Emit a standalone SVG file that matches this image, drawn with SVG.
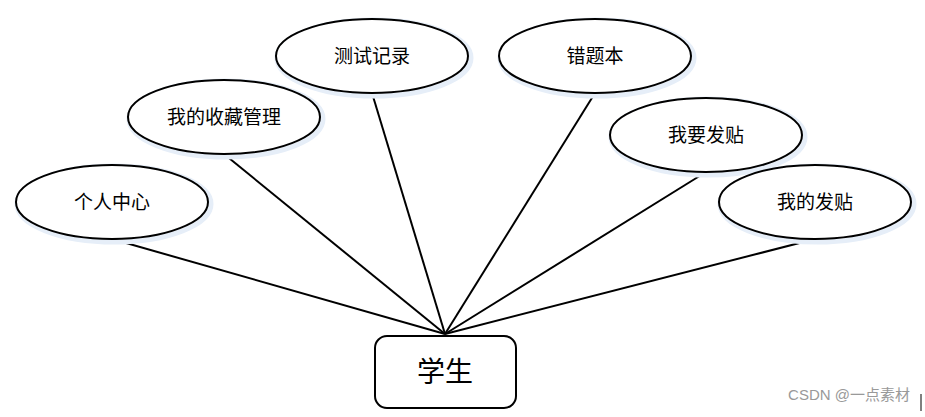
<svg xmlns="http://www.w3.org/2000/svg" width="925" height="417" viewBox="0 0 925 417">
<style>
.n ellipse{fill:#fff;stroke:#000;stroke-width:2}
.n ellipse.sh{fill:none;stroke:#e6eef8;stroke-width:5}
.t{font-family:"Liberation Sans","Noto Sans CJK SC",sans-serif;font-size:19px;fill:#000;text-anchor:middle;dominant-baseline:central}
#c line{stroke:#000;stroke-width:2}
</style>
<rect width="925" height="417" fill="#fff"/>
<g id="c">
<line x1="112" y1="239" x2="445" y2="334"/>
<line x1="224" y1="154" x2="445" y2="334"/>
<line x1="372" y1="93" x2="445" y2="334"/>
<line x1="595" y1="93" x2="445" y2="334"/>
<line x1="706" y1="172" x2="445" y2="334"/>
<line x1="815" y1="239" x2="445" y2="334"/>
</g>
<g id="n1" class="n"><ellipse class="sh" cx="114" cy="204" rx="97" ry="38"/><ellipse cx="112" cy="202" rx="96" ry="37"/><text class="t" x="112" y="202">个人中心</text></g>
<g id="n2" class="n"><ellipse class="sh" cx="226" cy="119" rx="97" ry="38"/><ellipse cx="224" cy="117" rx="96" ry="37"/><text class="t" x="224" y="117">我的收藏管理</text></g>
<g id="n3" class="n"><ellipse class="sh" cx="374" cy="58" rx="97" ry="38"/><ellipse cx="372" cy="56" rx="96" ry="37"/><text class="t" x="372" y="56">测试记录</text></g>
<g id="n4" class="n"><ellipse class="sh" cx="597" cy="58" rx="97" ry="38"/><ellipse cx="595" cy="56" rx="96" ry="37"/><text class="t" x="595" y="56">错题本</text></g>
<g id="n5" class="n"><ellipse class="sh" cx="708" cy="137" rx="97" ry="38"/><ellipse cx="706" cy="135" rx="96" ry="37"/><text class="t" x="706" y="135">我要发贴</text></g>
<g id="n6" class="n"><ellipse class="sh" cx="817" cy="204" rx="97" ry="38"/><ellipse cx="815" cy="202" rx="96" ry="37"/><text class="t" x="815" y="202">我的发贴</text></g>
<g id="n7"><rect x="375" y="336" width="141" height="72" rx="12" fill="#fff" stroke="#000" stroke-width="2"/><text class="t" x="445" y="372" style="font-size:28px">学生</text></g>
<text x="910" y="400" style="font-family:'Liberation Sans','Noto Sans CJK SC',sans-serif;font-size:15px;fill:#999;text-anchor:end">CSDN @一点素材</text>
<line x1="921" y1="394" x2="921" y2="411" stroke="#000" stroke-width="1"/>
</svg>
